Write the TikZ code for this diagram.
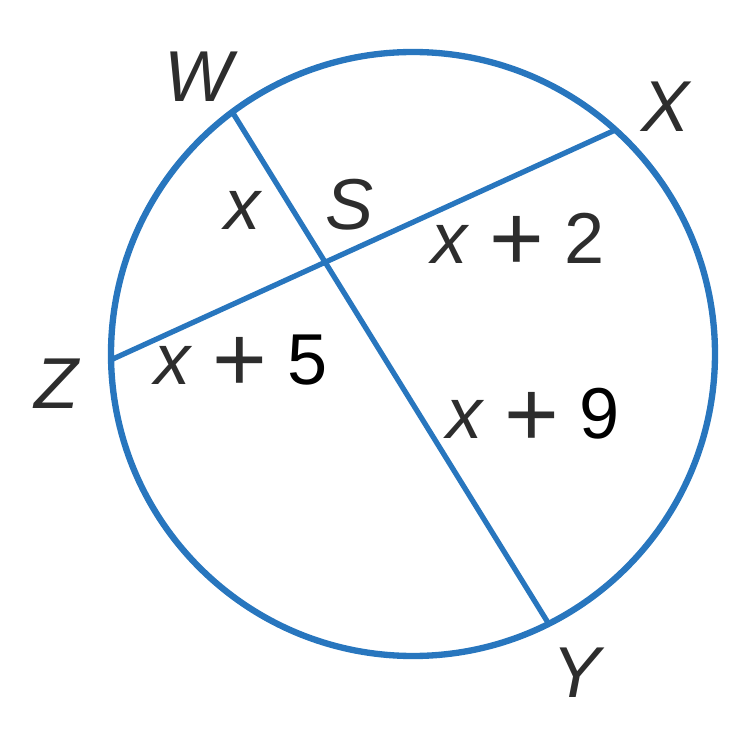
\documentclass[tikz,border=0pt]{standalone}
\usepackage{fontspec}
\usepackage{graphicx}
\setmainfont{Liberation Sans}
\definecolor{rimblue}{RGB}{40,118,190}
\definecolor{lblgray}{RGB}{45,45,45}
\newcommand{\pls}{\raisebox{-0.1em}{\scalebox{1.3}{+}}} % wide plus sign
\tikzset{
    rim/.style={draw=rimblue, line width=1.8pt}, % the circle
    chord/.style={draw=rimblue, line width=1.5pt}, % the two chords
    lbl/.style={inner sep=0pt, anchor=base, text=lblgray, font=\fontsize{20.5}{24}\selectfont} % labels
}

\begin{document}
\begin{tikzpicture}[x=0.01cm, y=0.01cm]
    \useasboundingbox (0,0) rectangle (747,-730);
    \coordinate (O) at (413,-354);
    \draw[rim] (O) circle (302);

    \coordinate (W) at ([shift={(126.75:302)}]O);
    \coordinate (X) at ([shift={(47.9:302)}]O);
    \coordinate (Z) at ([shift={(181.1:302)}]O);
    \coordinate (Y) at ([shift={(-63.3:302)}]O);
    \draw[chord] (W) -- (Y);
    \draw[chord] (Z) -- (X);

    \node[lbl] (lW) at (201,-101) {\textit{W}};
    \node[lbl] (lX) at (667,-131) {\textit{X}};
    \node[lbl] (lZ) at (58,-409) {\textit{Z}};
    \node[lbl] (lY) at (579,-698) {\textit{Y}};
    \node[lbl] (lS) at (350,-229) {\textit{S}};

    \node[lbl] (sWS) at (244,-229) {\textit{x}};
    \node[lbl] (sSX) at (518,-263) {\textit{x} \pls{} 2};
    \node[lbl] (sZS) at (241,-384) {\textit{x} \pls{} \textcolor{black}{5}};
    \node[lbl] (sSY) at (533,-439) {\textit{x} \pls{} \textcolor{black}{9}};
\end{tikzpicture}
\end{document}
